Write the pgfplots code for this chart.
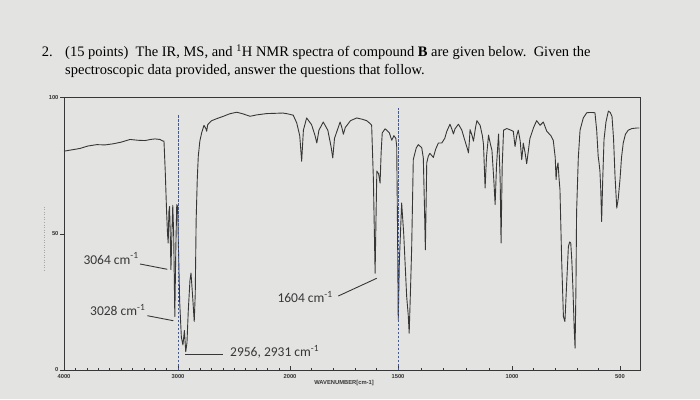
\documentclass[border=0pt]{standalone}
\usepackage{fontspec}
\setmainfont{Liberation Serif}
\newfontfamily\annfont{Carlito}
\newfontfamily\tickfont{Liberation Sans}
\usepackage{pgfplots}
\pgfplotsset{compat=1.18}
\usepackage{pgfplotstable}
\definecolor{bg}{RGB}{227,228,225}
\definecolor{ink}{RGB}{55,55,55}
\definecolor{dashblue}{RGB}{70,90,145}

\pgfplotstableread{
wn T
4000 80.3
3930 80.8
3860 81.3
3790 82.2
3713 82.7
3640 82.6
3570 83.0
3500 83.6
3421 84.6
3350 84.3
3289 84.2
3240 84.6
3202 84.8
3158 84.6
3132 84.0
3123 84.0
3112 73
3100 58
3092 50
3086 46.6
3080 58
3074 60
3068 50
3062 36.8
3055 48
3046 60.4
3038 50
3028 19.6
3019 45
3011 60.7
3003 60
2996 45
2985 25
2970 12
2956 9.2
2943 14.5
2931 6.7
2920 10
2908 22
2893 33
2884 35.6
2871 28
2855 17.8
2846 28
2838 55
2828 70
2819 78.4
2805 84
2789 87
2768 89.8
2750 88.5
2744 87.6
2735 90
2720 90.7
2699 91.5
2650 92.3
2595 93.1
2540 94
2476 94.6
2420 94
2357 93.1
2300 93.6
2208 94.1
2130 94.2
2063 94.3
2020 94
1985 93.5
1969 90.7
1955 86
1946 76.6
1938 88
1923 92.5
1900 90
1884 86
1876 83.3
1866 88
1846 91
1825 88
1810 82
1802 77.8
1794 85
1768 91
1760 89
1753 86.5
1744 89
1720 91.5
1691 92.5
1665 92
1645 91.5
1630 90.5
1622 89.8
1614 70
1606 35.5
1602 55
1598 73
1590 72
1583 68.6
1578 80
1573 87
1560 88.5
1552 88
1540 87
1529 84.3
1519 86
1510 85
1506 82
1502 50
1499 18.4
1494 40
1484 61.3
1475 50
1462 27
1455 20
1451 13.5
1445 30
1440 45
1433 77.2
1420 81.5
1411 82.7
1396 81.6
1389 77.8
1384 60
1380 44.1
1376 65
1374 76
1367 78.5
1360 79.5
1345 78
1335 81
1323 83.3
1308 83.3
1295 85
1286 87.6
1272 90.2
1262 88
1257 86.6
1250 88.5
1235 90.2
1220 88
1206 84
1195 81
1191 79.7
1187 84
1184 88.2
1175 86
1169 84
1160 89
1154 91.5
1140 89.8
1130 86
1125 82.7
1118 66.8
1112 78
1103 86.2
1095 83
1088 80.6
1080 70
1074 60.7
1068 75
1059 86.6
1052 70
1048 46.6
1043 75
1037 88
1023 88.6
1010 88.2
994 87.6
986 82
978 86
971 88
962 84
955 77.2
950 81
948 83.3
940 80
932 75.7
925 80
917 85
900 89
886 91.5
870 89.8
855 91
839 87.6
820 86
809 84.3
800 78
796 69.9
792 74
787 76
782 70
778 66.2
770 40
762 19.6
755 17.8
748 30
739 45.3
733 47
728 46.6
723 40
718 30
712 15
708 8
704 30
701 58
693 78
685 88
670 92.5
654 94.4
639 94.5
630 94.5
616 94.4
608 88
601 78.4
597 76
593 73
589 66
585 54.5
580 70
574 84.6
565 91
554 95
545 94.5
537 93
530 85
523 71
515 59.4
508 63
500 70
493 78
485 83.3
475 86.5
462 88
445 88.6
423 88.8
410 88.8
}\irdata

\pgfplotstableread{
wn T
3000 0
3000 93.6
}\dashA
\pgfplotstableread{
wn T
1500 0
1500 96
}\dashB

\begin{document}
\begin{tikzpicture}
\fill[bg] (0pt,0pt) rectangle (700pt,399pt);
\useasboundingbox (0pt,0pt) rectangle (700pt,399pt);
\begin{axis}[
  at={(64pt,29pt)}, anchor=south west,
  scale only axis, width=576pt, height=272.5pt,
  xmin=0, xmax=576, ymin=0, ymax=100,
  axis line style={ink, line width=0.7pt},
  xtick={0,114,226,334,448,556},
  xticklabels={4000,3000,2000,1500,1000,500},
  minor xtick={11.4,22.8,34.2,45.6,57,68.4,79.8,91.2,102.6,125.2,136.4,147.6,158.8,170,181.2,192.4,203.6,214.8,247.6,269.2,290.8,312.4,356.8,379.6,402.4,425.2,469.6,491.2,512.8,534.4},
  ytick={0,50,100}, yticklabels={0,50,100},
  xtick pos=bottom, ytick pos=left,
  tick align=inside,
  major tick length=4pt, minor tick length=2.5pt,
  tick style={ink, line width=0.5pt},
  ytick style={xshift=-4pt},
  tick label style={font=\tickfont\bfseries\fontsize{5.8}{6}\selectfont, text=ink},
  xticklabel style={yshift=-1pt},
  yticklabel style={xshift=-2pt},
  clip=false,
]
\addplot[ink, line width=0.9pt, line join=round] table[x expr={\thisrow{wn}>=3000 ? (4000-\thisrow{wn})*0.114 : (\thisrow{wn}>=2000 ? 114+(3000-\thisrow{wn})*0.112 : (\thisrow{wn}>=1500 ? 226+(2000-\thisrow{wn})*0.216 : (\thisrow{wn}>=1000 ? 334+(1500-\thisrow{wn})*0.228 : 448+(1000-\thisrow{wn})*0.216)))}, y=T] {\irdata};
\addplot[dashblue, line width=0.8pt, dash pattern=on 2.5pt off 1.5pt] table[x expr={(4000-\thisrow{wn})*0.114}, y=T] {\dashA};
\addplot[dashblue, line width=0.8pt, dash pattern=on 2.5pt off 1.5pt] table[x expr={226+(2000-\thisrow{wn})*0.216}, y=T] {\dashB};
\end{axis}
% small dotted mark left of the y axis
\draw[gray!70, line width=0.5pt, dash pattern=on 1pt off 1.5pt] (44pt,192pt) -- (44pt,129pt);
% axis label
\node[font=\tickfont\bfseries\fontsize{5.8}{6}\selectfont, text=ink] at (344pt,16pt) {WAVENUMBER[cm-1]};
% question text
\node[anchor=base west, inner sep=0pt, font=\fontsize{14.5}{17}\selectfont] at (41.7pt,342pt) {2.};
\node[anchor=base west, inner sep=0pt, font=\fontsize{14.5}{17}\selectfont] at (65pt,342pt) {(15 points)\ \ The IR, MS, and \textsuperscript{1}H NMR spectra of compound \textbf{B} are given below.\ \ Given the};
\node[anchor=base west, inner sep=0pt, font=\fontsize{14.5}{17}\selectfont] at (65pt,324pt) {spectroscopic data provided, answer the questions that follow.};
% annotations
\begin{scope}[every node/.style={anchor=base west, inner sep=0pt, font=\annfont\fontsize{13.5}{15}\selectfont, text=ink}]
\node at (83.3pt,135pt) {3064 cm\textsuperscript{-1}};
\draw[ink, line width=0.9pt] (140pt,135pt) -- (167.3pt,129.7pt);
\node at (90pt,83.3pt) {3028 cm\textsuperscript{-1}};
\draw[ink, line width=0.9pt] (147.3pt,83.3pt) -- (173.3pt,78.3pt);
\node at (277.3pt,96.3pt) {1604 cm\textsuperscript{-1}};
\draw[ink, line width=0.9pt] (338.3pt,103pt) -- (376.7pt,120.7pt);
\node at (230pt,42.3pt) {2956, 2931 cm\textsuperscript{-1}};
\draw[ink, line width=0.9pt] (185pt,45pt) -- (223.3pt,45pt);
\end{scope}
\end{tikzpicture}
\end{document}
